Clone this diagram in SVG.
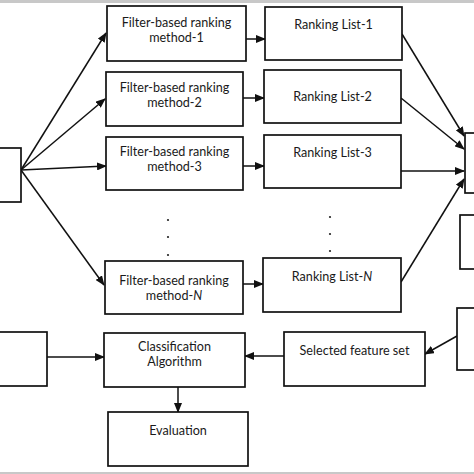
<svg xmlns="http://www.w3.org/2000/svg" width="474" height="474" viewBox="0 0 474 474">
<style>
.box{fill:#fff;stroke:#111;stroke-width:1.7}
.t{font-family:Lato,"Liberation Sans",Arial,sans-serif;font-size:12.6px;fill:#1a1a1a;text-anchor:middle}
.c{stroke:#111;stroke-width:1.5;fill:none;marker-end:url(#ah)}
.dot{fill:#222}
</style>
<defs>
<marker id="ah" markerWidth="10" markerHeight="8" refX="9" refY="4" orient="auto" markerUnits="userSpaceOnUse">
<path d="M0,0 L10,4 L0,8 Z" fill="#111"/>
</marker>
</defs>
<rect x="0" y="0" width="474" height="474" fill="#fff"/>
<rect x="0" y="0" width="474" height="3" fill="#c8c8c8"/>
<rect x="0" y="472" width="474" height="2" fill="#c8c8c8"/>

<g id="connectors">
<line class="c" x1="21" y1="170" x2="106" y2="33"/>
<line class="c" x1="21" y1="170" x2="105" y2="99"/>
<line class="c" x1="21" y1="170" x2="106" y2="166"/>
<line class="c" x1="21" y1="170" x2="104" y2="285"/>
<line class="c" x1="246" y1="39" x2="265" y2="39"/>
<line class="c" x1="243" y1="98" x2="264" y2="98"/>
<line class="c" x1="243" y1="166" x2="264" y2="166"/>
<line class="c" x1="243" y1="284" x2="263" y2="284"/>
<line class="c" x1="402" y1="34" x2="464" y2="136"/>
<line class="c" x1="401" y1="98" x2="464" y2="149"/>
<line class="c" x1="401" y1="171" x2="464" y2="171"/>
<line class="c" x1="401" y1="282" x2="464" y2="179"/>
<line class="c" x1="457" y1="336" x2="425" y2="354"/>
<line class="c" x1="284" y1="356" x2="245" y2="356"/>
<line class="c" x1="47" y1="357" x2="104" y2="357"/>
<line class="c" x1="178" y1="387" x2="178" y2="412"/>
</g>

<g id="input"><rect class="box" x="-60" y="148" width="81" height="54"/></g>
<g id="method1"><rect class="box" x="107" y="6" width="139" height="55"/>
<text class="t" x="176.5" y="26.5">Filter-based ranking</text><text class="t" x="176.5" y="41.5">method-1</text></g>
<g id="method2"><rect class="box" x="106" y="72" width="137" height="54"/>
<text class="t" x="174.5" y="92">Filter-based ranking</text><text class="t" x="174.5" y="107">method-2</text></g>
<g id="method3"><rect class="box" x="106" y="137" width="137" height="53"/>
<text class="t" x="174.5" y="156">Filter-based ranking</text><text class="t" x="174.5" y="171">method-3</text></g>
<g id="methodN"><rect class="box" x="105" y="261" width="138" height="53"/>
<text class="t" x="174" y="285">Filter-based ranking</text><text class="t" x="174" y="300">method-<tspan font-style="italic">N</tspan></text></g>

<g id="list1"><rect class="box" x="265" y="7" width="137" height="53"/><text class="t" x="333.5" y="29">Ranking List-1</text></g>
<g id="list2"><rect class="box" x="264" y="70" width="137" height="53"/><text class="t" x="332.5" y="101">Ranking List-2</text></g>
<g id="list3"><rect class="box" x="264" y="135" width="137" height="53"/><text class="t" x="332.5" y="157">Ranking List-3</text></g>
<g id="listN"><rect class="box" x="263" y="258" width="138" height="54"/><text class="t" x="332" y="281">Ranking List-<tspan font-style="italic">N</tspan></text></g>

<g id="aggregate"><rect class="box" x="465" y="133" width="40" height="60"/></g>
<g id="rightbox2"><rect class="box" x="460" y="215" width="40" height="54"/></g>
<g id="rightbox3"><rect class="box" x="457" y="308" width="40" height="62"/></g>

<g id="selected"><rect class="box" x="284" y="332" width="141" height="54"/><text class="t" x="354.5" y="355">Selected feature set</text></g>
<g id="classification"><rect class="box" x="104" y="333" width="141" height="54"/>
<text class="t" x="174.5" y="351">Classification</text><text class="t" x="174.5" y="366">Algorithm</text></g>
<g id="dataset"><rect class="box" x="-60" y="332" width="107" height="54"/></g>
<g id="evaluation"><rect class="box" x="108" y="412" width="140" height="54"/><text class="t" x="178" y="435">Evaluation</text></g>

<g id="dots">
<circle class="dot" cx="168" cy="220" r="1.1"/><circle class="dot" cx="168" cy="237" r="1.1"/><circle class="dot" cx="168" cy="255" r="1.1"/>
<circle class="dot" cx="330" cy="217" r="1.1"/><circle class="dot" cx="330" cy="234" r="1.1"/><circle class="dot" cx="330" cy="251" r="1.1"/>
</g>
</svg>
